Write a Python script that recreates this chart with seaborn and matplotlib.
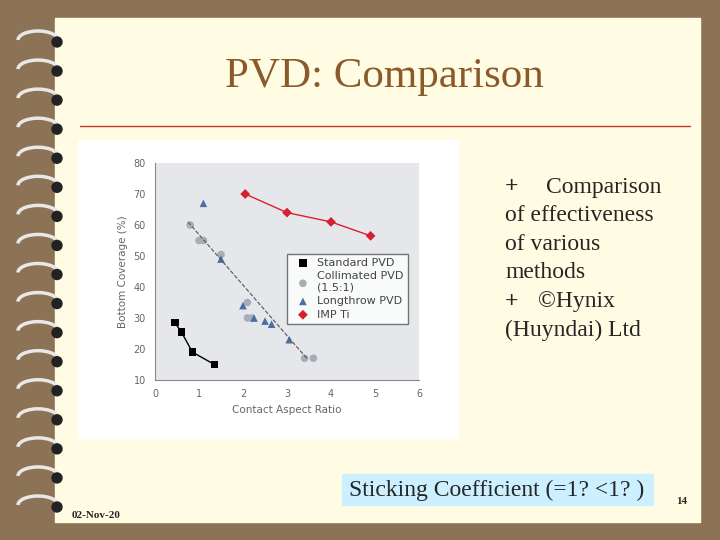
import numpy as np
import pandas as pd
import matplotlib.pyplot as plt
import seaborn as sns
from matplotlib.patches import Rectangle, Arc, Circle

# Data
std_x = [0.45, 0.6, 0.85, 1.35]
std_y = [28.5, 25.5, 19, 15]
col_x = [0.8, 1.0, 1.1, 1.5, 2.1, 2.1, 2.2, 3.4, 3.6]
col_y = [60, 55, 55, 50.5, 35, 30, 30, 17, 17]
lt_x = [1.1, 1.5, 2.0, 2.25, 2.5, 2.65, 3.05]
lt_y = [67, 49, 34, 30, 29, 28, 23]
imp_x = [2.05, 3.0, 4.0, 4.9]
imp_y = [70, 64, 61, 56.5]
trend_x = [0.75, 3.45]
trend_y = [61, 17]

bullets = ["Comparison", "of effectiveness", "of various", "methods", "©Hynix", "(Huyndai) Ltd"]
bullet_marks = [True, False, False, False, True, False]

sns.set_style("white")
plt.rcParams['font.family'] = ['Liberation Serif', 'DejaVu Serif']

fig = plt.figure(figsize=(7.2, 5.4), dpi=100)
fig.patch.set_facecolor("#8C7355")
bg = fig.add_axes([0, 0, 1, 1])
bg.set_xlim(0, 720)
bg.set_ylim(540, 0)
bg.axis("off")
bg.add_patch(Rectangle((55, 18), 645, 504, color="#FFFCE3", zorder=0))

# spiral binding
for y in np.linspace(40, 505, 17):
    bg.add_patch(Arc((38, y), 40, 18, theta1=180, theta2=360, color="#E8E8E8", lw=2.5))
    bg.add_patch(Circle((57, y + 2), 5, color="#222222"))

bg.text(384, 77, "PVD: Comparison", fontsize=31, color="#8B5A2B", ha="center", va="center")
bg.plot([80, 690], [126, 126], color="#C0392B", lw=1)
bg.add_patch(Rectangle((78, 140), 380, 298, color="white", zorder=1))

for i, (t, m) in enumerate(zip(bullets, bullet_marks)):
    y = 187 + i * 28.6
    if m:
        bg.text(505, y, "+", fontsize=17, ha="left", va="center", fontweight="bold")
        bg.text(546 if i == 0 else 538, y, t, fontsize=17, ha="left", va="center")
    else:
        bg.text(505, y, t, fontsize=17, ha="left", va="center")

bg.add_patch(Rectangle((342, 474), 311, 31, color="#CCF0FF", zorder=1))
bg.text(497, 490, "Sticking Coefficient (=1? <1? )", fontsize=17, ha="center", va="center", zorder=2)
bg.text(72, 515, "02-Nov-20", fontsize=8, fontweight="bold", va="center")
bg.text(676, 502, "14", fontsize=8, fontweight="bold", va="center")

# embedded chart
ax = fig.add_axes([155 / 720, 1 - 380 / 540, 264 / 720, 217 / 540])
gray = fig.add_axes([95 / 720, 1 - 400 / 540, 337 / 720, 248 / 540], zorder=-1)
gray.set_facecolor("#D5D7DC")
gray.set_xticks([]); gray.set_yticks([])
for s in gray.spines.values():
    s.set_visible(False)
ax.set_facecolor("#E6E7EA")

sf = dict(family="DejaVu Sans", fontsize=7.5, color="#666666")
ax.plot(trend_x, trend_y, ls="--", color="#555555", lw=0.8)
ax.plot(std_x, std_y, color="black", lw=1)
sns.scatterplot(x=std_x, y=std_y, marker="s", color="black", s=30, ax=ax, label="Standard PVD", edgecolor="none")
sns.scatterplot(x=col_x, y=col_y, marker="o", color="#A8ADB8", s=30, ax=ax, label="Collimated PVD\n(1.5:1)", edgecolor="none")
sns.scatterplot(x=lt_x, y=lt_y, marker="^", color="#4A6FA5", s=30, ax=ax, label="Longthrow PVD", edgecolor="none")
ax.plot(imp_x, imp_y, color="#D62030", lw=1)
sns.scatterplot(x=imp_x, y=imp_y, marker="D", color="#D62030", s=25, ax=ax, label="IMP Ti", edgecolor="none")

ax.set_xlim(0, 6)
ax.set_ylim(10, 80)
ax.set_xticks(range(7))
ax.set_yticks(range(10, 81, 10))
ax.tick_params(labelsize=7, colors="#666666", length=3)
for lab in ax.get_xticklabels() + ax.get_yticklabels():
    lab.set_family("DejaVu Sans")
for s in ["top", "right"]:
    ax.spines[s].set_visible(False)
for s in ["left", "bottom"]:
    ax.spines[s].set_color("#888888")
ax.set_xlabel("Contact Aspect Ratio", **sf)
ax.set_ylabel("Bottom Coverage (%)", **sf)
leg = ax.legend(loc="center right", bbox_to_anchor=(0.98, 0.42), prop={"family": "DejaVu Sans", "size": 8},
                frameon=True, fancybox=False, edgecolor="#555555", handletextpad=0.3, borderpad=0.4,
                labelspacing=0.3)
for t in leg.get_texts():
    t.set_color("#444444")

fig.savefig("out.png", dpi=100, facecolor=fig.get_facecolor())
